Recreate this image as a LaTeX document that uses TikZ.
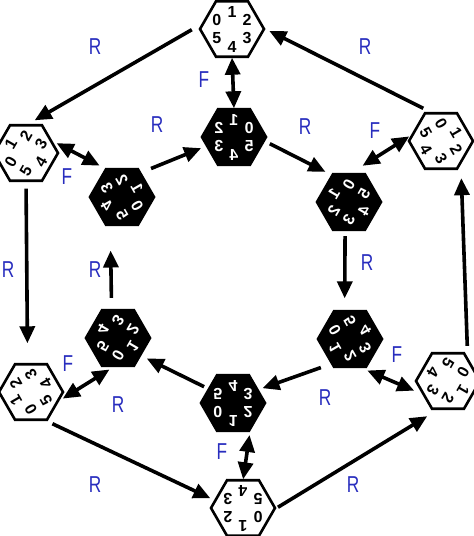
\documentclass[tikz,border=0pt]{standalone}
\usepackage{fontspec}
\setmainfont{Liberation Sans}
\newfontfamily\labelfont[FakeStretch=0.75]{Liberation Sans}
\usepackage{tikz}
\usetikzlibrary{shapes.geometric}
\usetikzlibrary{arrows.meta}
\definecolor{labelblue}{RGB}{40,45,190}

% name, x, y, rotation, xscale (-1 = flipped), fill, digit colour
\newcommand{\hexface}[7]{%
	\node[hexbase, fill=#6] (#1) at (#2,#3) {};
	\begin{scope}[shift={(#2,#3)}, xscale=#5, rotate=#4]
		\foreach \d in {0,...,5} {
			\node[digit, text=#7] (#1-\d) at ({150-60*\d}:17.5pt) {\d};
		}
	\end{scope}
}

\begin{document}
\begin{tikzpicture}[x=1pt, y=-1pt,
		hexbase/.style={draw=black, line width=2.6pt, regular polygon, regular polygon sides=6,
			minimum size=64pt, inner sep=0pt, outer sep=0pt},
		digit/.style={transform shape, inner sep=0pt, font=\bfseries\fontsize{16}{16}\selectfont},
		lbl/.style={text=labelblue, inner sep=0pt, font=\labelfont\fontsize{23}{23}\selectfont},
		rarrow/.style={line width=3.6pt, -{Triangle[length=17pt,width=15pt]}},
		farrow/.style={line width=3.6pt, {Triangle[length=17pt,width=15pt]}-{Triangle[length=17pt,width=15pt]}}]
	\useasboundingbox (0,0) rectangle (474,536);
	
	% outer ring
	\hexface{w0}{232}{29}{0}{1}{white}{black}
	\hexface{w1}{26}{153}{60}{1}{white}{black}
	\hexface{w2}{31}{392}{120}{1}{white}{black}
	\hexface{w3}{243}{508}{180}{1}{white}{black}
	\hexface{w4}{448}{381}{240}{1}{white}{black}
	\hexface{w5}{441}{141}{300}{1}{white}{black}
	
	% inner ring, flipped
	\hexface{b0}{234}{137}{0}{-1}{black}{white}
	\hexface{b1}{122}{197}{60}{-1}{black}{white}
	\hexface{b2}{118}{338}{120}{-1}{black}{white}
	\hexface{b3}{233}{403}{180}{-1}{black}{white}
	\hexface{b4}{350}{339}{240}{-1}{black}{white}
	\hexface{b5}{349}{202}{300}{-1}{black}{white}
	
	\foreach \a/\b/\s/\e in {w0.168/w1.90/13.5/10, w1.270/w2.97/8/21, w2.295/w3.165/9.4/5.5,
		w3.357/w4.253/4.6/14.4, w4.47/w5.313/14/16, w5.106/w0.2/11/6.6,
		b0.353/b5.122/6.7/7.7, b5.262/b4.101/6.3/12.9, b4.234/b3.28/12/5.3,
		b3.150/b2.322/5.5/7.5, b2.103/b1.247/12.5/25.8, b1.53/b0.198/11.8/6.4} {
		\draw[rarrow, shorten <=\s pt, shorten >=\e pt] (\a) -- (\b);
	}
	\foreach \a/\b/\s/\e in {w0.270/b0.90/1/1, w1.28/b1.119/6.9/7.9, w5.166/b5.90/4.5/16,
		w2.339/b2.265/6.6/7.2, b3.305/w3.90/7/1, b4.287/w4.210/9.6/10.7} {
		\draw[farrow, shorten <=\s pt, shorten >=\e pt] (\a) -- (\b);
	}
	
	\foreach \x/\y/\t [count=\i] in {95/47/R, 365/47/R, 157/125/R, 305/127/R, 8/270/R, 95/270/R,
		367/263/R, 118/405/R, 325/398/R, 95/485/R, 353/485/R,
		204/80/F, 375/131/F, 67/177/F, 397/355/F, 68/364/F, 222/452/F} {
		\node[lbl] (lab\i) at (\x,\y) {\t};
	}
\end{tikzpicture}
\end{document}
